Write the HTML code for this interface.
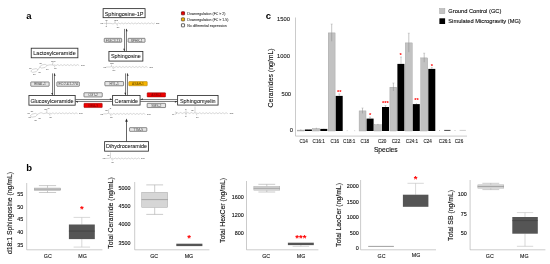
<!DOCTYPE html>
<html><head><meta charset="utf-8"><title>Figure</title>
<style>html,body{margin:0;padding:0;background:#fff;}svg{display:block;}text{font-family:"Liberation Sans",sans-serif;}</style>
</head><body>
<svg width="550" height="264" viewBox="0 0 550 264">
<rect x="0" y="0" width="550" height="264" fill="#fff"/>
<defs><filter id="soft" x="0" y="0" width="550" height="264" filterUnits="userSpaceOnUse"><feGaussianBlur stdDeviation="0.3"/></filter></defs>
<g filter="url(#soft)">
<rect x="124.5" y="28.9" width="2.0" height="22.5" fill="#f4f4f4"/>
<line x1="124.5" y1="28.9" x2="124.5" y2="51.4" stroke="#2e2e2e" stroke-width="0.6"/>
<line x1="126.5" y1="28.9" x2="126.5" y2="51.4" stroke="#2e2e2e" stroke-width="0.6"/>
<rect x="52.5" y="73.4" width="2.0" height="22.2" fill="#f4f4f4"/>
<line x1="52.5" y1="73.4" x2="52.5" y2="95.6" stroke="#2e2e2e" stroke-width="0.6"/>
<line x1="54.5" y1="73.4" x2="54.5" y2="95.6" stroke="#2e2e2e" stroke-width="0.6"/>
<rect x="125.5" y="73.4" width="2.0" height="22.0" fill="#f4f4f4"/>
<line x1="125.5" y1="73.4" x2="125.5" y2="95.4" stroke="#2e2e2e" stroke-width="0.6"/>
<line x1="127.5" y1="73.4" x2="127.5" y2="95.4" stroke="#2e2e2e" stroke-width="0.6"/>
<rect x="75.4" y="99.5" width="37.2" height="2.0" fill="#f4f4f4"/>
<line x1="75.4" y1="99.5" x2="112.6" y2="99.5" stroke="#2e2e2e" stroke-width="0.6"/>
<line x1="75.4" y1="101.5" x2="112.6" y2="101.5" stroke="#2e2e2e" stroke-width="0.6"/>
<rect x="140.2" y="99.5" width="37.4" height="2.0" fill="#f4f4f4"/>
<line x1="140.2" y1="99.5" x2="177.6" y2="99.5" stroke="#2e2e2e" stroke-width="0.6"/>
<line x1="140.2" y1="101.5" x2="177.6" y2="101.5" stroke="#2e2e2e" stroke-width="0.6"/>
<polygon points="126.5,28.7 127.7,31.2 125.9,31.2" fill="#2e2e2e"/>
<polygon points="124.3,51.2 123.2,48.8 125.0,48.8" fill="#2e2e2e"/>
<polygon points="54.5,73.2 55.7,75.7 53.9,75.7" fill="#2e2e2e"/>
<polygon points="52.3,95.3 51.2,92.9 53.0,92.9" fill="#2e2e2e"/>
<polygon points="125.5,95.2 124.3,92.7 126.1,92.7" fill="#2e2e2e"/>
<polygon points="127.5,73.2 128.7,75.7 126.9,75.7" fill="#2e2e2e"/>
<polygon points="112.4,99.4 109.9,98.2 109.9,100.0" fill="#2e2e2e"/>
<polygon points="75.4,101.6 77.9,102.8 77.9,101.0" fill="#2e2e2e"/>
<polygon points="140.3,99.4 142.8,98.2 142.8,100.0" fill="#2e2e2e"/>
<polygon points="177.4,101.6 174.9,102.8 174.9,101.0" fill="#2e2e2e"/>
<line x1="126.5" y1="120.6" x2="126.5" y2="141.6" stroke="#222" stroke-width="0.7"/>
<polygon points="126.5,118.4 125.2,121.8 127.8,121.8" fill="#222"/>
<rect x="103.12" y="8.62" width="41.95" height="9.05" fill="#fff" stroke="#2e2e2e" stroke-width="0.85"/>
<rect x="31.23" y="48.22" width="46.65" height="9.55" fill="#fff" stroke="#2e2e2e" stroke-width="0.85"/>
<rect x="108.92" y="51.42" width="33.95" height="9.65" fill="#fff" stroke="#2e2e2e" stroke-width="0.85"/>
<rect x="28.93" y="95.52" width="46.25" height="9.65" fill="#fff" stroke="#2e2e2e" stroke-width="0.85"/>
<rect x="112.62" y="95.42" width="27.45" height="9.65" fill="#fff" stroke="#2e2e2e" stroke-width="0.85"/>
<rect x="177.62" y="95.42" width="40.45" height="9.65" fill="#fff" stroke="#2e2e2e" stroke-width="0.85"/>
<rect x="104.62" y="141.62" width="43.95" height="9.55" fill="#fff" stroke="#2e2e2e" stroke-width="0.85"/>
<rect x="104.25" y="38.35" width="17.40" height="3.90" rx="0.5" ry="0.5" fill="#e6e6e6" stroke="#222" stroke-width="0.5"/>
<rect x="128.15" y="38.35" width="16.90" height="3.90" rx="0.5" ry="0.5" fill="#e6e6e6" stroke="#222" stroke-width="0.5"/>
<rect x="30.75" y="81.95" width="18.40" height="4.30" rx="0.5" ry="0.5" fill="#e6e6e6" stroke="#222" stroke-width="0.5"/>
<rect x="56.85" y="81.95" width="22.50" height="4.30" rx="0.5" ry="0.5" fill="#e6e6e6" stroke="#222" stroke-width="0.5"/>
<rect x="104.85" y="81.55" width="18.70" height="4.20" rx="0.5" ry="0.5" fill="#e6e6e6" stroke="#222" stroke-width="0.5"/>
<rect x="128.75" y="81.55" width="18.50" height="4.20" rx="0.5" ry="0.5" fill="#f7b500" stroke="#a87a00" stroke-width="0.5"/>
<rect x="83.95" y="92.75" width="18.30" height="4.20" rx="0.5" ry="0.5" fill="#e6e6e6" stroke="#222" stroke-width="0.5"/>
<rect x="83.95" y="103.35" width="18.30" height="4.20" rx="0.5" ry="0.5" fill="#ee0000" stroke="#8e0000" stroke-width="0.5"/>
<rect x="147.15" y="92.75" width="18.40" height="4.20" rx="0.5" ry="0.5" fill="#ee0000" stroke="#8e0000" stroke-width="0.5"/>
<rect x="147.15" y="103.35" width="18.40" height="4.20" rx="0.5" ry="0.5" fill="#e6e6e6" stroke="#222" stroke-width="0.5"/>
<rect x="129.55" y="127.65" width="17.30" height="3.70" rx="0.5" ry="0.5" fill="#e6e6e6" stroke="#222" stroke-width="0.5"/>
<polyline points="118.6,22.9 120.2,23.9 121.9,22.9 123.6,23.9 125.2,22.9 126.9,23.9 128.5,22.9 130.2,23.9 131.8,22.9 133.5,23.9 135.1,22.9 136.8,23.9 138.4,22.9 140.1,23.9 141.7,22.9 143.4,23.9 145.0,22.9 146.7,23.9 148.3,22.9 150.0,23.9 151.6,22.9 153.3,23.9 154.9,22.9" fill="none" stroke="#8f8f8f" stroke-width="0.35"/>
<line x1="103.6" y1="23.4" x2="111.0" y2="23.4" stroke="#8f8f8f" stroke-width="0.35"/>
<line x1="111.0" y1="23.4" x2="113.0" y2="24.0" stroke="#8f8f8f" stroke-width="0.35"/>
<line x1="113.0" y1="24.0" x2="115.0" y2="23.0" stroke="#8f8f8f" stroke-width="0.35"/>
<line x1="115.0" y1="23.0" x2="117.0" y2="24.0" stroke="#8f8f8f" stroke-width="0.35"/>
<line x1="117.0" y1="24.0" x2="118.6" y2="23.0" stroke="#8f8f8f" stroke-width="0.35"/>
<line x1="106.5" y1="21.0" x2="106.5" y2="25.6" stroke="#8f8f8f" stroke-width="0.35"/>
<line x1="115.0" y1="21.0" x2="115.0" y2="23.0" stroke="#8f8f8f" stroke-width="0.35"/>
<line x1="117.0" y1="24.0" x2="117.4" y2="25.8" stroke="#8f8f8f" stroke-width="0.35"/>
<polyline points="113.0,66.5 114.7,67.5 116.3,66.5 118.0,67.5 119.6,66.5 121.3,67.5 122.9,66.5 124.6,67.5 126.2,66.5 127.9,67.5 129.5,66.5 131.2,67.5 132.8,66.5 134.5,67.5 136.1,66.5 137.8,67.5 139.4,66.5 141.1,67.5 142.7,66.5 144.4,67.5 146.0,66.5 147.7,67.5" fill="none" stroke="#8f8f8f" stroke-width="0.35"/>
<line x1="106.2" y1="67.0" x2="110.0" y2="67.0" stroke="#8f8f8f" stroke-width="0.35"/>
<line x1="110" y1="67" x2="111.5" y2="66.4" stroke="#8f8f8f" stroke-width="0.35"/>
<line x1="111.5" y1="66.4" x2="113" y2="67.4" stroke="#8f8f8f" stroke-width="0.35"/>
<line x1="111.5" y1="64.6" x2="111.5" y2="66.4" stroke="#8f8f8f" stroke-width="0.35"/>
<line x1="113.0" y1="67.4" x2="113.4" y2="69.2" stroke="#8f8f8f" stroke-width="0.35"/>
<polyline points="54.4,64.6 56.0,65.6 57.7,64.6 59.3,65.6 61.0,64.6 62.6,65.6 64.3,64.6 66.0,65.6 67.6,64.6 69.3,65.6 70.9,64.6 72.6,65.6 74.2,64.6 75.9,65.6 77.5,64.6 79.2,65.6" fill="none" stroke="#8f8f8f" stroke-width="0.35"/>
<line x1="52.7" y1="62.6" x2="52.7" y2="65.0" stroke="#8f8f8f" stroke-width="0.35"/>
<line x1="52.7" y1="65.0" x2="54.4" y2="65.6" stroke="#8f8f8f" stroke-width="0.35"/>
<line x1="54.4" y1="65.6" x2="54.8" y2="67.4" stroke="#8f8f8f" stroke-width="0.35"/>
<line x1="52.7" y1="62.6" x2="54.0" y2="61.6" stroke="#8f8f8f" stroke-width="0.35"/>
<polygon points="47.0,65.5 45.2,67.4 41.6,68.1 39.8,66.9 41.6,65.0 45.2,64.3" fill="none" stroke="#8f8f8f" stroke-width="0.35"/>
<polygon points="38.0,69.8 36.2,71.7 32.6,72.4 30.8,71.2 32.6,69.3 36.2,68.6" fill="none" stroke="#8f8f8f" stroke-width="0.35"/>
<line x1="37.9" y1="69.8" x2="39.9" y2="67.0" stroke="#8f8f8f" stroke-width="0.35"/>
<line x1="46.9" y1="65.4" x2="50.0" y2="64.8" stroke="#8f8f8f" stroke-width="0.35"/>
<line x1="50.0" y1="64.8" x2="52.7" y2="65.0" stroke="#8f8f8f" stroke-width="0.35"/>
<polyline points="49.6,112.8 51.2,113.8 52.9,112.8 54.5,113.8 56.2,112.8 57.8,113.8 59.5,112.8 61.1,113.8 62.8,112.8 64.4,113.8 66.1,112.8 67.8,113.8 69.4,112.8 71.1,113.8 72.7,112.8 74.4,113.8 76.0,112.8 77.7,113.8" fill="none" stroke="#8f8f8f" stroke-width="0.35"/>
<line x1="46.8" y1="109.4" x2="46.8" y2="113.0" stroke="#8f8f8f" stroke-width="0.35"/>
<line x1="46.8" y1="113.0" x2="49.6" y2="113.8" stroke="#8f8f8f" stroke-width="0.35"/>
<line x1="49.6" y1="113.8" x2="50.0" y2="115.6" stroke="#8f8f8f" stroke-width="0.35"/>
<line x1="46.8" y1="109.4" x2="48.0" y2="108.4" stroke="#8f8f8f" stroke-width="0.35"/>
<polygon points="37.4,114.6 35.6,116.5 32.0,117.2 30.2,116.0 32.0,114.1 35.6,113.4" fill="none" stroke="#8f8f8f" stroke-width="0.35"/>
<line x1="37.3" y1="114.3" x2="41.0" y2="112.6" stroke="#8f8f8f" stroke-width="0.35"/>
<line x1="41.0" y1="112.6" x2="43.6" y2="113.6" stroke="#8f8f8f" stroke-width="0.35"/>
<line x1="43.6" y1="113.6" x2="46.8" y2="113.0" stroke="#8f8f8f" stroke-width="0.35"/>
<polyline points="110.6,113.4 112.2,114.4 113.9,113.4 115.6,114.4 117.2,113.4 118.9,114.4 120.5,113.4 122.2,114.4 123.8,113.4 125.5,114.4 127.1,113.4 128.8,114.4 130.4,113.4 132.1,114.4 133.7,113.4 135.4,114.4 137.0,113.4 138.7,114.4 140.3,113.4 142.0,114.4 143.6,113.4 145.3,114.4" fill="none" stroke="#8f8f8f" stroke-width="0.35"/>
<line x1="103.4" y1="113.8" x2="106.5" y2="113.8" stroke="#8f8f8f" stroke-width="0.35"/>
<line x1="106.5" y1="113.8" x2="108.6" y2="113.2" stroke="#8f8f8f" stroke-width="0.35"/>
<line x1="108.6" y1="113.2" x2="110.6" y2="114.4" stroke="#8f8f8f" stroke-width="0.35"/>
<line x1="108.6" y1="109.6" x2="108.6" y2="113.2" stroke="#8f8f8f" stroke-width="0.35"/>
<line x1="110.6" y1="114.4" x2="111.0" y2="116.2" stroke="#8f8f8f" stroke-width="0.35"/>
<line x1="108.6" y1="109.6" x2="109.8" y2="108.6" stroke="#8f8f8f" stroke-width="0.35"/>
<polyline points="196.4,112.7 198.1,113.7 199.7,112.7 201.4,113.7 203.0,112.7 204.7,113.7 206.3,112.7 208.0,113.7 209.6,112.7 211.3,113.7 212.9,112.7 214.6,113.7 216.2,112.7 217.9,113.7 219.5,112.7 221.2,113.7 222.8,112.7 224.5,113.7 226.1,112.7 227.8,113.7" fill="none" stroke="#8f8f8f" stroke-width="0.35"/>
<line x1="195.0" y1="106.6" x2="195.0" y2="112.6" stroke="#8f8f8f" stroke-width="0.35"/>
<line x1="195.0" y1="112.6" x2="196.4" y2="113.6" stroke="#8f8f8f" stroke-width="0.35"/>
<line x1="196.4" y1="113.6" x2="196.8" y2="115.4" stroke="#8f8f8f" stroke-width="0.35"/>
<polyline points="177.0,112.5 178.8,113.5 180.6,112.5 182.4,113.5 184.2,112.5 186.0,113.5 187.8,112.5 189.6,113.5 191.4,112.5 193.2,113.5 195.0,112.5" fill="none" stroke="#8f8f8f" stroke-width="0.35"/>
<line x1="186.0" y1="110.2" x2="186.0" y2="115.4" stroke="#8f8f8f" stroke-width="0.35"/>
<line x1="177.0" y1="113.0" x2="175.4" y2="111.6" stroke="#8f8f8f" stroke-width="0.35"/>
<line x1="177.0" y1="113.0" x2="175.2" y2="114.6" stroke="#8f8f8f" stroke-width="0.35"/>
<line x1="177.0" y1="113.0" x2="174.8" y2="113.0" stroke="#8f8f8f" stroke-width="0.35"/>
<polyline points="112.0,158.0 113.7,159.0 115.3,158.0 117.0,159.0 118.6,158.0 120.3,159.0 121.9,158.0 123.6,159.0 125.2,158.0 126.9,159.0 128.5,158.0 130.2,159.0 131.8,158.0 133.5,159.0 135.1,158.0 136.8,159.0 138.4,158.0 140.1,159.0" fill="none" stroke="#8f8f8f" stroke-width="0.35"/>
<line x1="105.6" y1="158.4" x2="108.6" y2="158.4" stroke="#8f8f8f" stroke-width="0.35"/>
<line x1="108.6" y1="158.4" x2="110.5" y2="157.8" stroke="#8f8f8f" stroke-width="0.35"/>
<line x1="110.5" y1="157.8" x2="112.0" y2="159.0" stroke="#8f8f8f" stroke-width="0.35"/>
<line x1="110.5" y1="152.4" x2="110.5" y2="157.8" stroke="#8f8f8f" stroke-width="0.35"/>
<line x1="112.0" y1="159.0" x2="112.4" y2="160.6" stroke="#8f8f8f" stroke-width="0.35"/>
<rect x="181.45" y="11.75" width="3.1" height="3.1" rx="0.35" ry="0.35" fill="#ee0000" stroke="#600" stroke-width="0.7"/>
<rect x="181.45" y="17.849999999999998" width="3.1" height="3.1" rx="0.35" ry="0.35" fill="#f7b500" stroke="#543" stroke-width="0.7"/>
<rect x="181.45" y="23.75" width="3.1" height="3.1" rx="0.35" ry="0.35" fill="#fff" stroke="#222" stroke-width="0.7"/>
<polyline points="295.5,17.5 295.5,136.1 467,136.1" fill="none" stroke="#a8a8a8" stroke-width="0.6"/>
<rect x="297.4" y="130.1" width="6.9" height="0.9" fill="#c2c2c2" stroke="#9a9a9a" stroke-width="0.4"/>
<line x1="300.8" y1="129.3" x2="300.8" y2="130.5" stroke="#8a8a8a" stroke-width="0.5"/>
<rect x="304.9" y="129.5" width="7.0" height="1.5" fill="#000"/>
<line x1="308.4" y1="129.0" x2="308.4" y2="129.5" stroke="#999" stroke-width="0.5"/>
<rect x="312.8" y="128.6" width="6.9" height="2.4" fill="#c2c2c2" stroke="#9a9a9a" stroke-width="0.4"/>
<line x1="316.3" y1="127.7" x2="316.3" y2="129.1" stroke="#8a8a8a" stroke-width="0.5"/>
<rect x="320.3" y="128.9" width="7.0" height="2.1" fill="#000"/>
<line x1="323.9" y1="128.4" x2="323.9" y2="128.9" stroke="#999" stroke-width="0.5"/>
<rect x="328.2" y="32.9" width="6.9" height="98.1" fill="#c2c2c2" stroke="#9a9a9a" stroke-width="0.4"/>
<line x1="331.7" y1="24.1" x2="331.7" y2="41.3" stroke="#8a8a8a" stroke-width="0.5"/>
<line x1="330.7" y1="24.1" x2="332.7" y2="24.1" stroke="#9a9a9a" stroke-width="0.4"/>
<rect x="335.7" y="95.9" width="7.0" height="35.1" fill="#000"/>
<line x1="339.3" y1="93.9" x2="339.3" y2="95.9" stroke="#999" stroke-width="0.5"/>
<line x1="338.3" y1="93.9" x2="340.3" y2="93.9" stroke="#9a9a9a" stroke-width="0.4"/>
<rect x="346.8" y="130.4" width="0.7" height="0.7" fill="#aaa"/>
<rect x="354.4" y="130.4" width="0.7" height="0.7" fill="#aaa"/>
<rect x="359.1" y="110.9" width="6.9" height="20.1" fill="#c2c2c2" stroke="#9a9a9a" stroke-width="0.4"/>
<line x1="362.5" y1="108.0" x2="362.5" y2="113.4" stroke="#8a8a8a" stroke-width="0.5"/>
<line x1="361.5" y1="108.0" x2="363.5" y2="108.0" stroke="#9a9a9a" stroke-width="0.4"/>
<rect x="366.6" y="118.6" width="7.0" height="12.4" fill="#000"/>
<line x1="370.1" y1="117.1" x2="370.1" y2="118.6" stroke="#999" stroke-width="0.5"/>
<line x1="369.1" y1="117.1" x2="371.1" y2="117.1" stroke="#9a9a9a" stroke-width="0.4"/>
<rect x="374.5" y="124.7" width="6.9" height="6.3" fill="#c2c2c2" stroke="#9a9a9a" stroke-width="0.4"/>
<line x1="377.9" y1="123.9" x2="377.9" y2="125.1" stroke="#8a8a8a" stroke-width="0.5"/>
<rect x="382.0" y="107.0" width="7.0" height="24.0" fill="#000"/>
<line x1="385.5" y1="105.5" x2="385.5" y2="107.0" stroke="#999" stroke-width="0.5"/>
<line x1="384.5" y1="105.5" x2="386.5" y2="105.5" stroke="#9a9a9a" stroke-width="0.4"/>
<rect x="389.9" y="87.2" width="6.9" height="43.8" fill="#c2c2c2" stroke="#9a9a9a" stroke-width="0.4"/>
<line x1="393.4" y1="83.0" x2="393.4" y2="91.0" stroke="#8a8a8a" stroke-width="0.5"/>
<line x1="392.4" y1="83.0" x2="394.4" y2="83.0" stroke="#9a9a9a" stroke-width="0.4"/>
<rect x="397.4" y="63.9" width="7.0" height="67.1" fill="#000"/>
<line x1="401.0" y1="57.0" x2="401.0" y2="63.9" stroke="#999" stroke-width="0.5"/>
<line x1="400.0" y1="57.0" x2="402.0" y2="57.0" stroke="#9a9a9a" stroke-width="0.4"/>
<rect x="405.3" y="42.9" width="6.9" height="88.1" fill="#c2c2c2" stroke="#9a9a9a" stroke-width="0.4"/>
<line x1="408.8" y1="33.2" x2="408.8" y2="52.2" stroke="#8a8a8a" stroke-width="0.5"/>
<line x1="407.8" y1="33.2" x2="409.8" y2="33.2" stroke="#9a9a9a" stroke-width="0.4"/>
<rect x="412.8" y="104.1" width="7.0" height="26.9" fill="#000"/>
<line x1="416.4" y1="103.1" x2="416.4" y2="104.1" stroke="#999" stroke-width="0.5"/>
<rect x="420.8" y="57.9" width="6.9" height="73.1" fill="#c2c2c2" stroke="#9a9a9a" stroke-width="0.4"/>
<line x1="424.2" y1="53.2" x2="424.2" y2="62.2" stroke="#8a8a8a" stroke-width="0.5"/>
<line x1="423.2" y1="53.2" x2="425.2" y2="53.2" stroke="#9a9a9a" stroke-width="0.4"/>
<rect x="428.3" y="68.9" width="7.0" height="62.1" fill="#000"/>
<line x1="431.8" y1="67.4" x2="431.8" y2="68.9" stroke="#999" stroke-width="0.5"/>
<line x1="430.8" y1="67.4" x2="432.8" y2="67.4" stroke="#9a9a9a" stroke-width="0.4"/>
<rect x="439.2" y="130.3" width="0.8" height="0.7" fill="#999"/>
<rect x="444.2" y="129.9" width="6.3" height="1.0" fill="#4a4a4a"/>
<rect x="454.6" y="130.3" width="0.8" height="0.7" fill="#999"/>
<rect x="459.6" y="129.9" width="6.3" height="1.0" fill="#cfcfcf"/>
<rect x="439.6" y="8.5" width="5.3" height="5.2" fill="#c2c2c2" stroke="#9a9a9a" stroke-width="0.4"/>
<rect x="439.4" y="18.3" width="5.7" height="5.7" fill="#000"/>
<polyline points="26.7,183 26.7,249.8 102.4,249.8" fill="none" stroke="#a8a8a8" stroke-width="0.6"/>
<line x1="47.5" y1="185.6" x2="47.5" y2="187.8" stroke="#a8a8a8" stroke-width="0.6"/>
<line x1="38.9" y1="185.6" x2="56.1" y2="185.6" stroke="#a8a8a8" stroke-width="0.6"/>
<line x1="47.5" y1="190.7" x2="47.5" y2="192.5" stroke="#a8a8a8" stroke-width="0.6"/>
<line x1="38.9" y1="192.5" x2="56.1" y2="192.5" stroke="#a8a8a8" stroke-width="0.6"/>
<rect x="34.35" y="188.05" width="26.30" height="2.40" fill="#d6d6d6" stroke="#a8a8a8" stroke-width="0.5"/>
<line x1="34.1" y1="189.2" x2="60.9" y2="189.2" stroke="#999" stroke-width="0.8"/>
<line x1="81.8" y1="217.4" x2="81.8" y2="224.5" stroke="#bdbdbd" stroke-width="0.6"/>
<line x1="73.6" y1="217.4" x2="90.1" y2="217.4" stroke="#bdbdbd" stroke-width="0.6"/>
<line x1="81.8" y1="239.1" x2="81.8" y2="247.1" stroke="#bdbdbd" stroke-width="0.6"/>
<line x1="73.6" y1="247.1" x2="90.1" y2="247.1" stroke="#bdbdbd" stroke-width="0.6"/>
<rect x="68.9" y="224.5" width="25.9" height="14.6" fill="#555"/>
<line x1="68.9" y1="231.1" x2="94.8" y2="231.1" stroke="#3a3a3a" stroke-width="0.6"/>
<polyline points="134.7,182 134.7,249.8 209.4,249.8" fill="none" stroke="#a8a8a8" stroke-width="0.6"/>
<line x1="154.7" y1="184.9" x2="154.7" y2="192.1" stroke="#a8a8a8" stroke-width="0.6"/>
<line x1="146.3" y1="184.9" x2="163.1" y2="184.9" stroke="#a8a8a8" stroke-width="0.6"/>
<line x1="154.7" y1="207.6" x2="154.7" y2="214.4" stroke="#a8a8a8" stroke-width="0.6"/>
<line x1="146.3" y1="214.4" x2="163.1" y2="214.4" stroke="#a8a8a8" stroke-width="0.6"/>
<rect x="141.75" y="192.35" width="25.90" height="15.00" fill="#d6d6d6" stroke="#a8a8a8" stroke-width="0.5"/>
<line x1="141.5" y1="199.6" x2="167.9" y2="199.6" stroke="#999" stroke-width="0.8"/>
<rect x="176.3" y="243.7" width="26.1" height="2.4" fill="#555"/>
<polyline points="246.5,181 246.5,249.8 318.4,249.8" fill="none" stroke="#a8a8a8" stroke-width="0.6"/>
<line x1="266.8" y1="184.3" x2="266.8" y2="186.3" stroke="#a8a8a8" stroke-width="0.6"/>
<line x1="258.4" y1="184.3" x2="275.2" y2="184.3" stroke="#a8a8a8" stroke-width="0.6"/>
<line x1="266.8" y1="190.4" x2="266.8" y2="192.0" stroke="#a8a8a8" stroke-width="0.6"/>
<line x1="258.4" y1="192.0" x2="275.2" y2="192.0" stroke="#a8a8a8" stroke-width="0.6"/>
<rect x="253.85" y="186.55" width="25.90" height="3.60" fill="#d6d6d6" stroke="#a8a8a8" stroke-width="0.5"/>
<line x1="253.6" y1="188.3" x2="280.0" y2="188.3" stroke="#999" stroke-width="0.8"/>
<line x1="300.9" y1="245.1" x2="300.9" y2="246.4" stroke="#bdbdbd" stroke-width="0.6"/>
<line x1="292.6" y1="246.4" x2="309.1" y2="246.4" stroke="#bdbdbd" stroke-width="0.6"/>
<rect x="287.9" y="242.7" width="25.9" height="2.4" fill="#555"/>
<polyline points="360.6,180 360.6,249.8 436,249.8" fill="none" stroke="#a8a8a8" stroke-width="0.6"/>
<line x1="368.2" y1="246.4" x2="393.9" y2="246.4" stroke="#888" stroke-width="0.8"/>
<line x1="415.6" y1="183.3" x2="415.6" y2="194.7" stroke="#bdbdbd" stroke-width="0.6"/>
<line x1="407.5" y1="183.3" x2="423.8" y2="183.3" stroke="#bdbdbd" stroke-width="0.6"/>
<rect x="402.9" y="194.7" width="25.5" height="12.1" fill="#555"/>
<polyline points="470.1,180 470.1,249.8 545.4,249.8" fill="none" stroke="#a8a8a8" stroke-width="0.6"/>
<line x1="490.8" y1="183.3" x2="490.8" y2="184.6" stroke="#a8a8a8" stroke-width="0.6"/>
<line x1="482.4" y1="183.3" x2="499.2" y2="183.3" stroke="#a8a8a8" stroke-width="0.6"/>
<line x1="490.8" y1="188.4" x2="490.8" y2="189.6" stroke="#a8a8a8" stroke-width="0.6"/>
<line x1="482.4" y1="189.6" x2="499.2" y2="189.6" stroke="#a8a8a8" stroke-width="0.6"/>
<rect x="477.85" y="184.85" width="25.90" height="3.30" fill="#d6d6d6" stroke="#a8a8a8" stroke-width="0.5"/>
<line x1="477.6" y1="186.5" x2="504.0" y2="186.5" stroke="#999" stroke-width="0.8"/>
<line x1="525.0" y1="212.6" x2="525.0" y2="217.0" stroke="#bdbdbd" stroke-width="0.6"/>
<line x1="516.9" y1="212.6" x2="533.2" y2="212.6" stroke="#bdbdbd" stroke-width="0.6"/>
<line x1="525.0" y1="233.7" x2="525.0" y2="246.3" stroke="#bdbdbd" stroke-width="0.6"/>
<line x1="516.9" y1="246.3" x2="533.2" y2="246.3" stroke="#bdbdbd" stroke-width="0.6"/>
<rect x="512.3" y="217.0" width="25.5" height="16.7" fill="#555"/>
<line x1="512.3" y1="220.6" x2="537.8" y2="220.6" stroke="#3a3a3a" stroke-width="0.6"/>
</g>
<g>
<text x="26.2" y="18.7" font-size="9.5" font-weight="bold" fill="#000">a</text>
<text x="124.1" y="15.7" font-size="5.5" text-anchor="middle" fill="#111" stroke="#111" stroke-width="0.05">Sphingosine-1P</text>
<text x="54.5" y="54.9" font-size="5.45" text-anchor="middle" fill="#111" stroke="#111" stroke-width="0.05">Lactosylceramide</text>
<text x="125.9" y="58.1" font-size="5.45" text-anchor="middle" fill="#111" stroke="#111" stroke-width="0.05">Sphingosine</text>
<text x="52.0" y="102.7" font-size="5.45" text-anchor="middle" fill="#111" stroke="#111" stroke-width="0.05">Glucosylceramide</text>
<text x="126.3" y="102.7" font-size="5.45" text-anchor="middle" fill="#111" stroke="#111" stroke-width="0.05">Ceramide</text>
<text x="197.8" y="102.7" font-size="5.45" text-anchor="middle" fill="#111" stroke="#111" stroke-width="0.05">Sphingomyelin</text>
<text x="126.6" y="148.2" font-size="5.45" text-anchor="middle" fill="#111" stroke="#111" stroke-width="0.05">Dihydroceramide</text>
<text x="113.0" y="41.5" font-size="3.3" text-anchor="middle" fill="#707070" stroke="#707070" stroke-width="0.1">F53C3.13</text>
<text x="136.6" y="41.5" font-size="3.3" text-anchor="middle" fill="#707070" stroke="#707070" stroke-width="0.1">SPHK-1</text>
<text x="40.0" y="85.3" font-size="3.3" text-anchor="middle" fill="#707070" stroke="#707070" stroke-width="0.1">BGAL-1</text>
<text x="68.1" y="85.3" font-size="3.3" text-anchor="middle" fill="#707070" stroke="#707070" stroke-width="0.1">EC:2.4.1.274</text>
<text x="114.2" y="84.9" font-size="3.3" text-anchor="middle" fill="#707070" stroke="#707070" stroke-width="0.1">HYL-1</text>
<text x="138.0" y="84.9" font-size="3.3" text-anchor="middle" fill="#8a6500" stroke="#8a6500" stroke-width="0.1">ASAH-1</text>
<text x="93.1" y="96.0" font-size="3.3" text-anchor="middle" fill="#707070" stroke="#707070" stroke-width="0.1">CGT-2</text>
<text x="93.1" y="106.7" font-size="3.3" text-anchor="middle" fill="#990000" stroke="#990000" stroke-width="0.1">GBA-3</text>
<text x="156.4" y="96.0" font-size="3.3" text-anchor="middle" fill="#990000" stroke="#990000" stroke-width="0.1">ASM-3</text>
<text x="156.4" y="106.7" font-size="3.3" text-anchor="middle" fill="#707070" stroke="#707070" stroke-width="0.1">SMS-2</text>
<text x="138.2" y="130.7" font-size="3.3" text-anchor="middle" fill="#707070" stroke="#707070" stroke-width="0.1">TTM-5</text>
<text x="155.9" y="24.1" font-size="1.7" fill="#777" stroke="#777" stroke-width="0.1">CH3</text>
<text x="100.4" y="24.1" font-size="1.8" fill="#777" stroke="#777" stroke-width="0.1">HO</text>
<text x="105.4" y="20.6" font-size="1.5" fill="#777" stroke="#777" stroke-width="0.1">OH</text>
<text x="105.7" y="27.4" font-size="1.5" fill="#777" stroke="#777" stroke-width="0.1">O</text>
<text x="114.4" y="20.8" font-size="1.7" fill="#777" stroke="#777" stroke-width="0.1">NH2</text>
<text x="116.8" y="27.8" font-size="1.7" fill="#777" stroke="#777" stroke-width="0.1">OH</text>
<text x="149.4" y="67.7" font-size="1.7" fill="#777" stroke="#777" stroke-width="0.1">CH3</text>
<text x="103.4" y="67.7" font-size="1.8" fill="#777" stroke="#777" stroke-width="0.1">HO</text>
<text x="110.2" y="64.2" font-size="1.7" fill="#777" stroke="#777" stroke-width="0.1">NH2</text>
<text x="112.6" y="71.0" font-size="1.7" fill="#777" stroke="#777" stroke-width="0.1">OH</text>
<text x="81.0" y="65.8" font-size="1.7" fill="#777" stroke="#777" stroke-width="0.1">CH3</text>
<text x="51.2" y="62.2" font-size="1.6" fill="#777" stroke="#777" stroke-width="0.1">NH</text>
<text x="54.2" y="69.4" font-size="1.6" fill="#777" stroke="#777" stroke-width="0.1">OH</text>
<text x="54.2" y="61.6" font-size="1.5" fill="#777" stroke="#777" stroke-width="0.1">O</text>
<text x="29.0" y="69.4" font-size="1.6" fill="#777" stroke="#777" stroke-width="0.1">HO</text>
<text x="33.0" y="75.0" font-size="1.6" fill="#777" stroke="#777" stroke-width="0.1">OH</text>
<text x="38.6" y="73.4" font-size="1.6" fill="#777" stroke="#777" stroke-width="0.1">OH</text>
<text x="39.4" y="63.6" font-size="1.6" fill="#777" stroke="#777" stroke-width="0.1">OH</text>
<text x="46.0" y="70.4" font-size="1.6" fill="#777" stroke="#777" stroke-width="0.1">OH</text>
<text x="79.0" y="114.0" font-size="1.7" fill="#777" stroke="#777" stroke-width="0.1">CH3</text>
<text x="44.6" y="109.8" font-size="1.6" fill="#777" stroke="#777" stroke-width="0.1">NH</text>
<text x="49.4" y="117.6" font-size="1.6" fill="#777" stroke="#777" stroke-width="0.1">OH</text>
<text x="48.2" y="108.6" font-size="1.5" fill="#777" stroke="#777" stroke-width="0.1">O</text>
<text x="27.4" y="114.0" font-size="1.6" fill="#777" stroke="#777" stroke-width="0.1">HO</text>
<text x="28.4" y="118.4" font-size="1.6" fill="#777" stroke="#777" stroke-width="0.1">HO</text>
<text x="34.4" y="121.0" font-size="1.6" fill="#777" stroke="#777" stroke-width="0.1">OH</text>
<text x="38.6" y="118.8" font-size="1.6" fill="#777" stroke="#777" stroke-width="0.1">OH</text>
<text x="30.8" y="111.6" font-size="1.6" fill="#777" stroke="#777" stroke-width="0.1">OH</text>
<text x="147.0" y="114.6" font-size="1.7" fill="#777" stroke="#777" stroke-width="0.1">CH3</text>
<text x="100.4" y="114.5" font-size="1.8" fill="#777" stroke="#777" stroke-width="0.1">HO</text>
<text x="105.6" y="110.6" font-size="1.6" fill="#777" stroke="#777" stroke-width="0.1">NH</text>
<text x="110.2" y="118.4" font-size="1.6" fill="#777" stroke="#777" stroke-width="0.1">OH</text>
<text x="110.0" y="108.8" font-size="1.5" fill="#777" stroke="#777" stroke-width="0.1">O</text>
<text x="229.8" y="113.9" font-size="1.7" fill="#777" stroke="#777" stroke-width="0.1">CH3</text>
<text x="191.4" y="110.6" font-size="1.6" fill="#777" stroke="#777" stroke-width="0.1">NH</text>
<text x="196.0" y="117.6" font-size="1.6" fill="#777" stroke="#777" stroke-width="0.1">OH</text>
<text x="185.3" y="109.8" font-size="1.5" fill="#777" stroke="#777" stroke-width="0.1">O</text>
<text x="185.3" y="117.4" font-size="1.5" fill="#777" stroke="#777" stroke-width="0.1">O</text>
<text x="172.2" y="115.4" font-size="1.7" fill="#777" stroke="#777" stroke-width="0.1">N+</text>
<text x="141.0" y="159.2" font-size="1.7" fill="#777" stroke="#777" stroke-width="0.1">CH3</text>
<text x="102.8" y="159.1" font-size="1.8" fill="#777" stroke="#777" stroke-width="0.1">HO</text>
<text x="107.4" y="155.8" font-size="1.6" fill="#777" stroke="#777" stroke-width="0.1">NH</text>
<text x="111.4" y="162.6" font-size="1.6" fill="#777" stroke="#777" stroke-width="0.1">OH</text>
<text x="187.2" y="14.5" font-size="3.5" fill="#444" stroke="#444" stroke-width="0.1">Downregulation (FC &gt; 2)</text>
<text x="187.2" y="20.6" font-size="3.5" fill="#444" stroke="#444" stroke-width="0.1">Downregulation (FC &gt; 1.5)</text>
<text x="187.2" y="26.5" font-size="3.5" fill="#444" stroke="#444" stroke-width="0.1">No differential expression</text>
<text x="265.8" y="18.6" font-size="9.5" font-weight="bold" fill="#000">c</text>
<text x="293.0" y="131.8" font-size="5.8" text-anchor="end" fill="#222" stroke="#222" stroke-width="0.12">0</text>
<text x="291.1" y="96.3" font-size="5.8" text-anchor="end" fill="#222" stroke="#222" stroke-width="0.12">500</text>
<text x="290.0" y="58.4" font-size="5.8" text-anchor="end" fill="#222" stroke="#222" stroke-width="0.12">1000</text>
<text x="290.0" y="21.4" font-size="5.8" text-anchor="end" fill="#222" stroke="#222" stroke-width="0.12">1500</text>
<text transform="translate(272.9,77.9) rotate(-90)" font-size="6.9" text-anchor="middle" fill="#111" stroke="#111" stroke-width="0.12">Ceramides (ng/mL)</text>
<text x="303.6" y="143.1" font-size="4.6" text-anchor="middle" fill="#222" stroke="#222" stroke-width="0.1">C14</text>
<text x="318.7" y="143.1" font-size="4.6" text-anchor="middle" fill="#222" stroke="#222" stroke-width="0.1">C16:1</text>
<text x="334.8" y="143.1" font-size="4.6" text-anchor="middle" fill="#222" stroke="#222" stroke-width="0.1">C16</text>
<text x="339.3" y="93.9" font-size="5.8" font-weight="bold" text-anchor="middle" fill="#f00">**</text>
<text x="349.2" y="143.1" font-size="4.6" text-anchor="middle" fill="#222" stroke="#222" stroke-width="0.1">C18:1</text>
<text x="364.8" y="143.1" font-size="4.6" text-anchor="middle" fill="#222" stroke="#222" stroke-width="0.1">C18</text>
<text x="370.2" y="116.6" font-size="5.8" font-weight="bold" text-anchor="middle" fill="#f00">*</text>
<text x="382.2" y="143.1" font-size="4.6" text-anchor="middle" fill="#222" stroke="#222" stroke-width="0.1">C20</text>
<text x="385.5" y="105.0" font-size="5.8" font-weight="bold" text-anchor="middle" fill="#f00">***</text>
<text x="396.0" y="143.1" font-size="4.6" text-anchor="middle" fill="#222" stroke="#222" stroke-width="0.1">C22</text>
<text x="400.7" y="56.6" font-size="5.8" font-weight="bold" text-anchor="middle" fill="#f00">*</text>
<text x="412.0" y="143.1" font-size="4.6" text-anchor="middle" fill="#222" stroke="#222" stroke-width="0.1">C24:1</text>
<text x="416.5" y="101.8" font-size="5.8" font-weight="bold" text-anchor="middle" fill="#f00">**</text>
<text x="427.6" y="143.1" font-size="4.6" text-anchor="middle" fill="#222" stroke="#222" stroke-width="0.1">C24</text>
<text x="431.8" y="67.8" font-size="5.8" font-weight="bold" text-anchor="middle" fill="#f00">*</text>
<text x="445.0" y="143.1" font-size="4.6" text-anchor="middle" fill="#222" stroke="#222" stroke-width="0.1">C26:1</text>
<text x="459.0" y="143.1" font-size="4.6" text-anchor="middle" fill="#222" stroke="#222" stroke-width="0.1">C26</text>
<text x="385.8" y="151.6" font-size="6.7" text-anchor="middle" fill="#111" stroke="#111" stroke-width="0.12">Species</text>
<text x="448.3" y="13.1" font-size="5.72" fill="#111" stroke="#111" stroke-width="0.12">Ground Control (GC)</text>
<text x="448.3" y="22.9" font-size="5.72" fill="#111" stroke="#111" stroke-width="0.12">Simulated Microgravity (MG)</text>
<text x="26.3" y="171.4" font-size="9.5" font-weight="bold" fill="#000">b</text>
<text x="23.3" y="196.0" font-size="5.4" text-anchor="end" fill="#111" stroke="#111" stroke-width="0.12">55</text>
<text x="23.3" y="208.6" font-size="5.4" text-anchor="end" fill="#111" stroke="#111" stroke-width="0.12">50</text>
<text x="23.3" y="221.3" font-size="5.4" text-anchor="end" fill="#111" stroke="#111" stroke-width="0.12">45</text>
<text x="23.3" y="234.0" font-size="5.4" text-anchor="end" fill="#111" stroke="#111" stroke-width="0.12">40</text>
<text x="23.3" y="246.6" font-size="5.4" text-anchor="end" fill="#111" stroke="#111" stroke-width="0.12">35</text>
<text transform="translate(12.0,213) rotate(-90)" font-size="6.85" text-anchor="middle" fill="#111" stroke="#111" stroke-width="0.12">d18:1 Sphingosine (ng/mL)</text>
<text x="47.8" y="258.3" font-size="5.3" text-anchor="middle" fill="#222" stroke="#222" stroke-width="0.12">GC</text>
<text x="82.5" y="258.3" font-size="5.3" text-anchor="middle" fill="#222" stroke="#222" stroke-width="0.12">MG</text>
<text x="81.8" y="212.0" font-size="9.5" font-weight="bold" text-anchor="middle" fill="#f00">*</text>
<text x="130.5" y="190.0" font-size="5.4" text-anchor="end" fill="#111" stroke="#111" stroke-width="0.12">5000</text>
<text x="130.5" y="208.3" font-size="5.4" text-anchor="end" fill="#111" stroke="#111" stroke-width="0.12">4500</text>
<text x="130.5" y="226.4" font-size="5.4" text-anchor="end" fill="#111" stroke="#111" stroke-width="0.12">4000</text>
<text x="130.5" y="244.6" font-size="5.4" text-anchor="end" fill="#111" stroke="#111" stroke-width="0.12">3500</text>
<text transform="translate(113.0,213) rotate(-90)" font-size="6.85" text-anchor="middle" fill="#111" stroke="#111" stroke-width="0.12">Total Ceramide (ng/mL)</text>
<text x="154.2" y="258.3" font-size="5.3" text-anchor="middle" fill="#222" stroke="#222" stroke-width="0.12">GC</text>
<text x="188.9" y="258.3" font-size="5.3" text-anchor="middle" fill="#222" stroke="#222" stroke-width="0.12">MG</text>
<text x="189.0" y="241.4" font-size="9.5" font-weight="bold" text-anchor="middle" fill="#f00">*</text>
<text x="243.7" y="199.0" font-size="5.4" text-anchor="end" fill="#111" stroke="#111" stroke-width="0.12">1600</text>
<text x="243.7" y="216.9" font-size="5.4" text-anchor="end" fill="#111" stroke="#111" stroke-width="0.12">1200</text>
<text x="243.7" y="234.6" font-size="5.4" text-anchor="end" fill="#111" stroke="#111" stroke-width="0.12">800</text>
<text transform="translate(224.7,210.5) rotate(-90)" font-size="6.85" text-anchor="middle" fill="#111" stroke="#111" stroke-width="0.12">Total HexCer (ng/mL)</text>
<text x="266.2" y="258.3" font-size="5.3" text-anchor="middle" fill="#222" stroke="#222" stroke-width="0.12">GC</text>
<text x="301.0" y="258.3" font-size="5.3" text-anchor="middle" fill="#222" stroke="#222" stroke-width="0.12">MG</text>
<text x="300.9" y="240.6" font-size="9.5" font-weight="bold" text-anchor="middle" fill="#f00">***</text>
<text x="358.7" y="187.6" font-size="5.4" text-anchor="end" fill="#111" stroke="#111" stroke-width="0.12">2000</text>
<text x="358.7" y="203.5" font-size="5.4" text-anchor="end" fill="#111" stroke="#111" stroke-width="0.12">1500</text>
<text x="358.7" y="218.9" font-size="5.4" text-anchor="end" fill="#111" stroke="#111" stroke-width="0.12">1000</text>
<text x="358.7" y="234.6" font-size="5.4" text-anchor="end" fill="#111" stroke="#111" stroke-width="0.12">500</text>
<text x="358.7" y="250.2" font-size="5.4" text-anchor="end" fill="#111" stroke="#111" stroke-width="0.12">0</text>
<text transform="translate(340.7,215) rotate(-90)" font-size="6.85" text-anchor="middle" fill="#111" stroke="#111" stroke-width="0.12">Total LacCer (ng/mL)</text>
<text x="381.6" y="258.3" font-size="5.3" text-anchor="middle" fill="#222" stroke="#222" stroke-width="0.12">GC</text>
<text x="416.0" y="257.4" font-size="5.3" text-anchor="middle" fill="#222" stroke="#222" stroke-width="0.12">MG</text>
<text x="415.7" y="181.9" font-size="9.5" font-weight="bold" text-anchor="middle" fill="#f00">*</text>
<text x="466.7" y="196.0" font-size="5.4" text-anchor="end" fill="#111" stroke="#111" stroke-width="0.12">100</text>
<text x="466.7" y="215.9" font-size="5.4" text-anchor="end" fill="#111" stroke="#111" stroke-width="0.12">75</text>
<text x="466.7" y="235.4" font-size="5.4" text-anchor="end" fill="#111" stroke="#111" stroke-width="0.12">50</text>
<text transform="translate(452.7,215.5) rotate(-90)" font-size="6.85" text-anchor="middle" fill="#111" stroke="#111" stroke-width="0.12">Total SB (ng/mL)</text>
<text x="489.8" y="258.3" font-size="5.3" text-anchor="middle" fill="#222" stroke="#222" stroke-width="0.12">GC</text>
<text x="524.3" y="258.3" font-size="5.3" text-anchor="middle" fill="#222" stroke="#222" stroke-width="0.12">MG</text>
</g>
</svg>
</body></html>
